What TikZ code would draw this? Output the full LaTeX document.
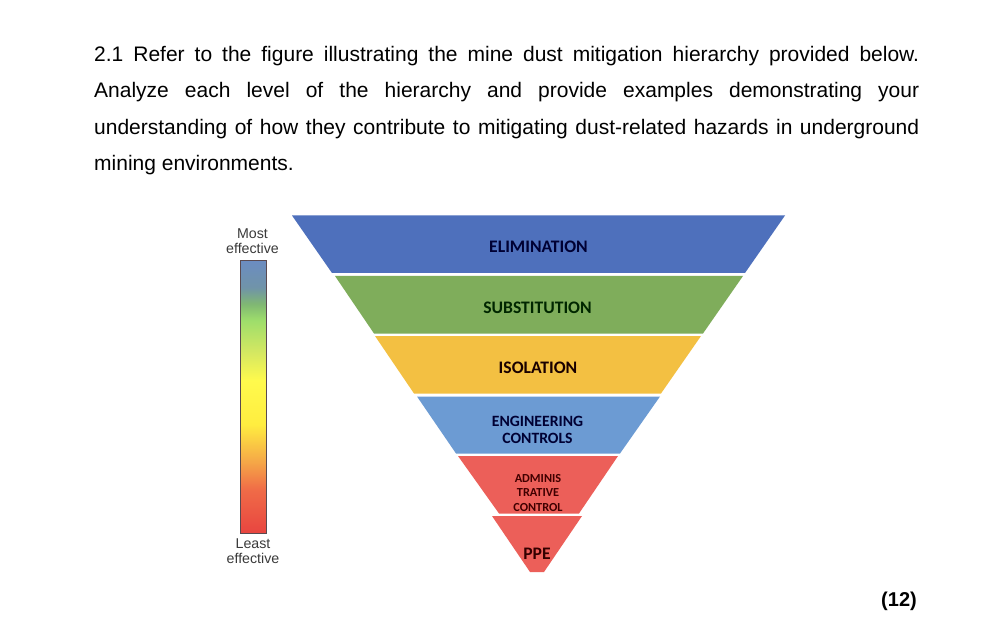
\documentclass[tikz,border=0pt]{standalone}
\usepackage{fontspec}
\setmainfont{Liberation Sans}
\newfontfamily\labelfont{Carlito}
\usetikzlibrary{positioning}
\pgfdeclareverticalshading{effectbar}{100bp}{
  rgb(0bp)=(0.91,0.27,0.25);
  rgb(25bp)=(0.91,0.27,0.25);
  rgb(33bp)=(0.94,0.42,0.28);
  rgb(38bp)=(0.96,0.65,0.28);
  rgb(45bp)=(1,0.93,0.25);
  rgb(53bp)=(1,0.98,0.30);
  rgb(58bp)=(0.84,0.91,0.38);
  rgb(64bp)=(0.62,0.87,0.42);
  rgb(67bp)=(0.50,0.72,0.45);
  rgb(70bp)=(0.44,0.58,0.66);
  rgb(75bp)=(0.42,0.55,0.76);
  rgb(100bp)=(0.42,0.55,0.76)}
\definecolor{elimblue}{HTML}{4E70BC}
\definecolor{subgreen}{HTML}{7FAD5B}
\definecolor{isoyellow}{HTML}{F3C042}
\definecolor{engblue}{HTML}{6C9BD3}
\definecolor{admred}{HTML}{EC5F59}
\definecolor{darkbar}{HTML}{5A4A50}
\definecolor{sidegrey}{HTML}{3A3A3A}
\tikzset{
  x=1pt,y=-1pt,
  level/.style={fill=#1,draw=none},
  levellabel/.style={font=\labelfont\bfseries\fontsize{17.6}{17}\selectfont,align=center,text=#1,inner sep=0pt},
  englabel/.style={font=\labelfont\bfseries\fontsize{15.7}{17}\selectfont,align=center,text=#1,inner sep=0pt},
  smalllabel/.style={font=\labelfont\bfseries\fontsize{12.3}{14.7}\selectfont,align=center,text=#1,inner sep=0pt},
  sidelabel/.style={font=\fontsize{14.2}{15}\selectfont,align=center,text=sidegrey,inner sep=0pt},
  question/.style={font=\fontsize{21}{36.4}\selectfont,inner sep=0pt,anchor=north west,text width=825pt,align=justify}
}
\begin{document}
\begin{tikzpicture}
  \useasboundingbox[fill=white] (0,0) rectangle (1006,620);

  \node[question] (text) at (94,46) {2.1 Refer to the figure illustrating the mine dust mitigation hierarchy provided below.\linebreak Analyze each level of the hierarchy and provide examples demonstrating your\linebreak understanding of how they contribute to mitigating dust-related hazards in underground\linebreak mining environments.};

  \fill[level=elimblue] (292,215.5) -- (785,215.5) -- (745,273) -- (332,273) -- cycle;
  \fill[level=subgreen] (335,276) -- (743,276) -- (703,333.5) -- (374,333.5) -- cycle;
  \fill[level=isoyellow] (375,336) -- (701,336) -- (661,393.5) -- (414,393.5) -- cycle;
  \fill[level=engblue] (417,396.5) -- (660,396.5) -- (620,453.5) -- (456,453.5) -- cycle;
  \fill[level=admred] (458,456) -- (618,456) -- (579,513.5) -- (499,513.5) -- cycle;
  \fill[level=admred] (492,516) -- (582,516) -- (544,572) -- (530,572) -- cycle;

  \node[levellabel=black!80!blue] (elim) at (538.5,246.5) {ELIMINATION};
  \node[levellabel=black!85!green] (subst) at (537.5,307.5) {SUBSTITUTION};
  \node[levellabel=black!90!red] (iso) at (538,367.5) {ISOLATION};
  \node[englabel=black!80!blue] (eng) at (537.5,430) {ENGINEERING\\CONTROLS};
  \node[smalllabel=black!75!red] (adm) at (538,493) {ADMINIS\\TRATIVE\\CONTROL};
  \node[levellabel=black!80!red] (ppe) at (537,553.5) {PPE};

  \node[sidelabel] (most) at (252.5,241.5) {Most\\effective};
  \node[draw=darkbar,line width=0.8pt,minimum width=26pt,minimum height=273pt,inner sep=0pt,shading=effectbar,anchor=north] (bar) at (253,260) {};
  \node[sidelabel,below=5pt of bar] (least) {Least\\effective};

  \node[font=\bfseries\fontsize{20}{24}\selectfont,anchor=east,inner sep=0pt] (marks) at (917,601) {(12)};
\end{tikzpicture}
\end{document}
